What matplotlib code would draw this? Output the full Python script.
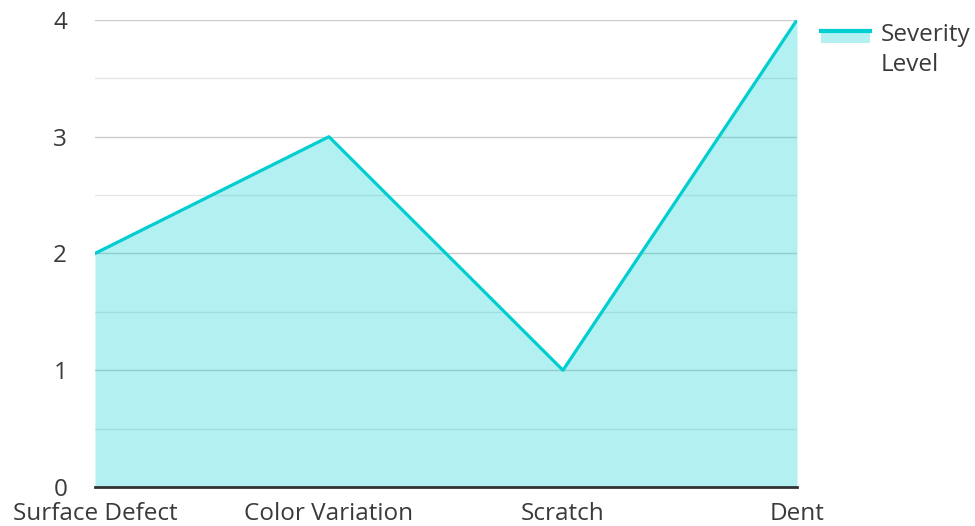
import matplotlib.pyplot as plt
from matplotlib.legend_handler import HandlerBase
from matplotlib.patches import Rectangle
from matplotlib.lines import Line2D
import numpy as np

plt.rcParams['font.family'] = ['Open Sans', 'DejaVu Sans']

# --- data ---
categories = ['Surface Defect', 'Color Variation', 'Scratch', 'Dent']
severity = [2, 3, 1, 4]
y_ticks = [0, 1, 2, 3, 4]

line_color = '#00CED1'
text_color = '#3a3a3a'
fs = 17.5


class LineOverFill(HandlerBase):
    # legend key: line on top, light fill below, level with first text line
    def create_artists(self, legend, orig_handle, xdescent, ydescent,
                       width, height, fontsize, trans):
        top = -ydescent + height * 1.62
        rect = Rectangle((-xdescent, top - height * 0.68), width, height * 0.68,
                         facecolor=line_color, alpha=0.3, transform=trans, lw=0)
        ln = Line2D([-xdescent, -xdescent + width], [top, top],
                    color=line_color, lw=3, transform=trans)
        return [rect, ln]


fig = plt.figure(figsize=(9.75, 5.26), dpi=100)
ax = fig.add_axes([0.0974, 0.0741, 0.72, 0.888])

x = np.arange(len(categories))
ax.fill_between(x, 0, severity, color=line_color, alpha=0.3, lw=0, zorder=2)
ax.plot(x, severity, color=line_color, lw=2.3, zorder=3, label='Severity\nLevel')

ax.set_xlim(0, len(categories) - 1)
ax.set_ylim(0, 4)
ax.set_xticks(x)
ax.set_xticklabels(categories)
ax.set_yticks(y_ticks)
ax.set_yticks(np.arange(0.5, 4, 1), minor=True)

ax.grid(axis='y', which='major', color='#cccccc', lw=1, zorder=1)
ax.grid(axis='y', which='minor', color='#e6e6e6', lw=1, zorder=1)
ax.set_axisbelow(True)

for s in ['top', 'right', 'left']:
    ax.spines[s].set_visible(False)
ax.spines['bottom'].set_color('#333333')
ax.spines['bottom'].set_linewidth(2)
ax.spines['bottom'].set_zorder(4)

ax.tick_params(axis='both', which='both', length=0, labelsize=fs, colors=text_color)
ax.tick_params(axis='x', pad=10.5)
ax.tick_params(axis='y', pad=20)

leg = ax.legend(handles=[ax.lines[0]], handler_map={Line2D: LineOverFill()},
                loc='upper left', bbox_to_anchor=(1.014, 1.024), frameon=False,
                fontsize=fs, handlelength=2.0, handletextpad=0.45, labelspacing=0.2,
                borderaxespad=0.2)
for t in leg.get_texts():
    t.set_color(text_color)
    t.set_linespacing(1.3)

fig.savefig('out.png', dpi=100)
